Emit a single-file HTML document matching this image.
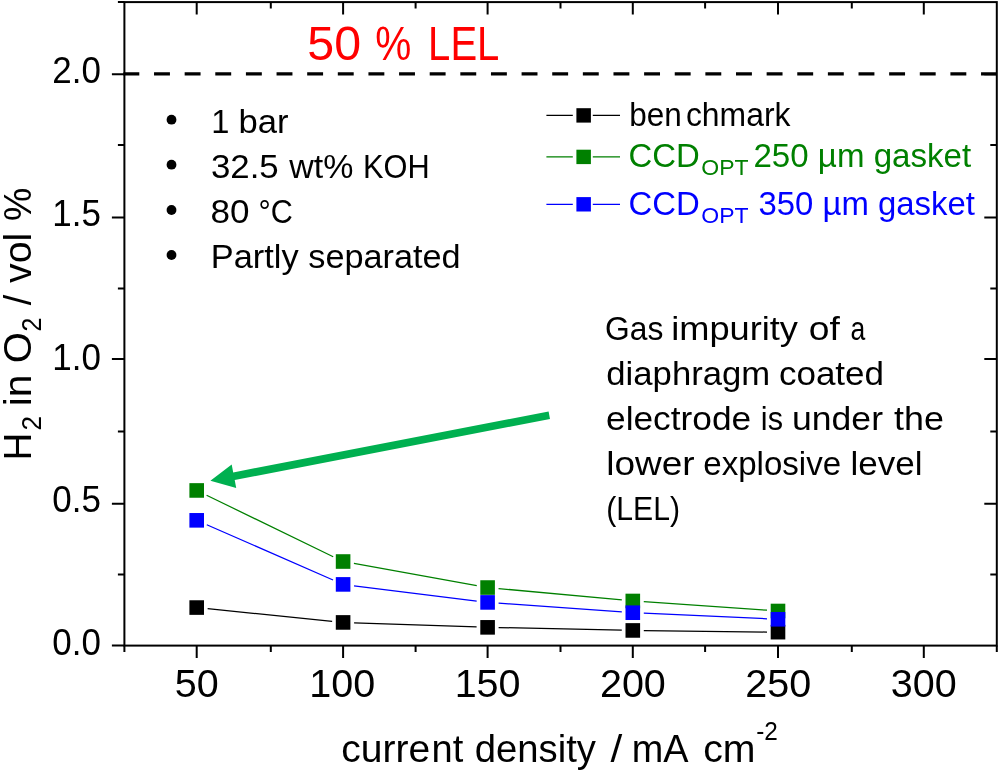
<!DOCTYPE html>
<html lang="en"><head><meta charset="utf-8"><title>H2 in O2 vs current density</title>
<style>html,body{margin:0;padding:0;background:#fff}body{width:1000px;height:773px;overflow:hidden}svg{display:block;filter:blur(0.45px)}text{font-family:"Liberation Sans",sans-serif;white-space:pre}</style>
</head><body>
<svg width="1000" height="773" viewBox="0 0 1000 773">
<rect width="1000" height="773" fill="#fff"/>
<line x1="123.4" y1="73.8" x2="996.8" y2="73.8" stroke="#000" stroke-width="3.2" stroke-dasharray="15.9 14.73"/>
<rect x="124.4" y="2.1" width="872.4" height="643.5" fill="none" stroke="#000" stroke-width="2"/>
<path d="M124.4 645.6v6.5 M196.7 645.6v12.5 M196.7 2.1v12.5 M270.8 645.6v6.5 M270.8 2.1v6.5 M343.1 645.6v12.5 M343.1 2.1v12.5 M415.6 645.6v6.5 M415.6 2.1v6.5 M487.6 645.6v12.5 M487.6 2.1v12.5 M560.5 645.6v6.5 M560.5 2.1v6.5 M632.8 645.6v12.5 M632.8 2.1v12.5 M705.1 645.6v6.5 M705.1 2.1v6.5 M778 645.6v12.5 M778 2.1v12.5 M851.8 645.6v6.5 M851.8 2.1v6.5 M923.8 645.6v12.5 M923.8 2.1v12.5 M996.8 645.6v6.5 M124.4 645.6h-12.5 M124.4 574.5h-6.5 M996.8 574.5h-6.5 M124.4 503.8h-12.5 M996.8 503.8h-12.5 M124.4 431.4h-6.5 M996.8 431.4h-6.5 M124.4 359.1h-12.5 M996.8 359.1h-12.5 M124.4 288.4h-6.5 M996.8 288.4h-6.5 M124.4 217.4h-12.5 M996.8 217.4h-12.5 M124.4 145.1h-6.5 M996.8 145.1h-6.5 M124.4 74.2h-12.5 M996.8 74.2h-12.5 M124.4 2.1h-6.5" stroke="#000" stroke-width="2" fill="none"/>
<text x="196.8" y="697" font-size="39.5" text-anchor="middle">50</text>
<text x="342.2" y="697" font-size="39.5" text-anchor="middle">100</text>
<text x="487.6" y="697" font-size="39.5" text-anchor="middle">150</text>
<text x="632.9" y="697" font-size="39.5" text-anchor="middle">200</text>
<text x="778.3" y="697" font-size="39.5" text-anchor="middle">250</text>
<text x="923.7" y="697" font-size="39.5" text-anchor="middle">300</text>
<text x="100.9" y="655.4" font-size="36" text-anchor="end" textLength="48.6" lengthAdjust="spacingAndGlyphs">0.0</text>
<text x="100.9" y="512.3" font-size="36" text-anchor="end" textLength="48.6" lengthAdjust="spacingAndGlyphs">0.5</text>
<text x="100.9" y="369.5" font-size="36" text-anchor="end" textLength="48.6" lengthAdjust="spacingAndGlyphs">1.0</text>
<text x="100.9" y="226.3" font-size="36" text-anchor="end" textLength="48.6" lengthAdjust="spacingAndGlyphs">1.5</text>
<text x="100.9" y="83.2" font-size="36" text-anchor="end" textLength="48.6" lengthAdjust="spacingAndGlyphs">2.0</text>
<text y="762.2"><tspan x="341.28" font-size="39.3" textLength="88.90" lengthAdjust="spacingAndGlyphs">curre</tspan><tspan x="431.62" font-size="39.3" textLength="31.75" lengthAdjust="spacingAndGlyphs">nt</tspan> <tspan x="474.80" font-size="39.3" textLength="121.20" lengthAdjust="spacingAndGlyphs">density</tspan> <tspan x="610.40" font-size="39.3" textLength="11.76" lengthAdjust="spacingAndGlyphs">/</tspan> <tspan x="631.73" font-size="39.3" textLength="56.78" lengthAdjust="spacingAndGlyphs">mA</tspan> <tspan x="703.17" font-size="39.3" textLength="52.36" lengthAdjust="spacingAndGlyphs">cm</tspan><tspan x="756.24" dy="-22.7" font-size="26" textLength="21.65" lengthAdjust="spacingAndGlyphs">-2</tspan></text>
<text transform="translate(30.9 461) rotate(-90)"><tspan x="0.39" font-size="39.5" textLength="27.86" lengthAdjust="spacingAndGlyphs">H</tspan><tspan x="30.38" dy="10.4" font-size="27.3" textLength="14.47" lengthAdjust="spacingAndGlyphs">2</tspan> <tspan x="54.65" dy="-10.4" font-size="39.5" textLength="31.74" lengthAdjust="spacingAndGlyphs">in</tspan> <tspan x="97.72" font-size="39.5" textLength="31.23" lengthAdjust="spacingAndGlyphs">O</tspan><tspan x="129.53" dy="10.4" font-size="27.3" textLength="13.88" lengthAdjust="spacingAndGlyphs">2</tspan> <tspan x="155.80" dy="-10.4" font-size="39.5" textLength="10.57" lengthAdjust="spacingAndGlyphs">/</tspan> <tspan x="178.10" font-size="39.5" textLength="50.19" lengthAdjust="spacingAndGlyphs">vol</tspan> <tspan x="240.03" font-size="39.5" textLength="33.39" lengthAdjust="spacingAndGlyphs">%</tspan></text>
<path d="M207.64 608.67L332.16 621.32 M354.09 622.81L476.61 626.98 M498.60 627.59L621.80 630.21 M643.80 630.57L767.00 632.03" stroke="#000" stroke-width="1.25" fill="none"/>
<rect x="189.40" y="600.26" width="14.6" height="14.6" fill="#000"/>
<rect x="335.80" y="615.13" width="14.6" height="14.6" fill="#000"/>
<rect x="480.30" y="620.05" width="14.6" height="14.6" fill="#000"/>
<rect x="625.50" y="623.14" width="14.6" height="14.6" fill="#000"/>
<rect x="770.70" y="624.86" width="14.6" height="14.6" fill="#000"/>
<path d="M206.60 495.25L333.20 556.71 M353.93 563.47L476.77 585.59 M498.55 588.56L621.85 599.97 M643.77 601.74L767.03 610.24" stroke="#008000" stroke-width="1.25" fill="none"/>
<rect x="189.40" y="483.15" width="14.6" height="14.6" fill="#008000"/>
<rect x="335.80" y="554.22" width="14.6" height="14.6" fill="#008000"/>
<rect x="480.30" y="580.24" width="14.6" height="14.6" fill="#008000"/>
<rect x="625.50" y="593.68" width="14.6" height="14.6" fill="#008000"/>
<rect x="770.70" y="603.69" width="14.6" height="14.6" fill="#008000"/>
<path d="M206.78 524.74L333.02 579.99 M354.02 585.76L476.68 601.05 M498.57 603.19L621.83 611.93 M643.79 613.21L767.01 618.79" stroke="#0000ff" stroke-width="1.25" fill="none"/>
<rect x="189.40" y="513.03" width="14.6" height="14.6" fill="#0000ff"/>
<rect x="335.80" y="577.10" width="14.6" height="14.6" fill="#0000ff"/>
<rect x="480.30" y="595.11" width="14.6" height="14.6" fill="#0000ff"/>
<rect x="625.50" y="605.41" width="14.6" height="14.6" fill="#0000ff"/>
<rect x="770.70" y="611.99" width="14.6" height="14.6" fill="#0000ff"/>
<polygon points="548.6,411.4 233.2,472.4 231.7,464.5 210.4,480.8 236.2,488.0 234.7,480.1 550.0,419.0" fill="#00b050"/>
<text y="60.2" fill="#f00"><tspan x="307.29" font-size="47.5" textLength="53.76" lengthAdjust="spacingAndGlyphs">50</tspan> <tspan x="375.33" font-size="47.5" textLength="36.08" lengthAdjust="spacingAndGlyphs">%</tspan> <tspan x="428.12" font-size="47.5" textLength="71.28" lengthAdjust="spacingAndGlyphs">LEL</tspan></text>
<circle cx="171.5" cy="119.7" r="4.9" fill="#000"/>
<text y="133"><tspan x="211.16" font-size="33" textLength="18.17" lengthAdjust="spacingAndGlyphs">1</tspan> <tspan x="238.64" font-size="33" textLength="50.03" lengthAdjust="spacingAndGlyphs">bar</tspan></text>
<circle cx="171.5" cy="164.7" r="4.9" fill="#000"/>
<text y="178"><tspan x="210.91" font-size="33" textLength="67.80" lengthAdjust="spacingAndGlyphs">32.5</tspan> <tspan x="289.33" font-size="33" textLength="64.08" lengthAdjust="spacingAndGlyphs">wt%</tspan> <tspan x="362.99" font-size="33" textLength="66.72" lengthAdjust="spacingAndGlyphs">KOH</tspan></text>
<circle cx="171.5" cy="210.0" r="4.9" fill="#000"/>
<text y="223.3"><tspan x="210.60" font-size="33" textLength="39.02" lengthAdjust="spacingAndGlyphs">80</tspan> <tspan x="258.57" font-size="33" textLength="34.29" lengthAdjust="spacingAndGlyphs">°C</tspan></text>
<circle cx="171.5" cy="255.0" r="4.9" fill="#000"/>
<text y="268.3"><tspan x="210.82" font-size="33" textLength="87.78" lengthAdjust="spacingAndGlyphs">Partly</tspan> <tspan x="308.26" font-size="33" textLength="152.36" lengthAdjust="spacingAndGlyphs">separated</tspan></text>
<text y="339.6"><tspan x="605.11" font-size="33" textLength="58.28" lengthAdjust="spacingAndGlyphs">Gas</tspan> <tspan x="671.24" font-size="33" textLength="126.76" lengthAdjust="spacingAndGlyphs">impurity</tspan> <tspan x="808.84" font-size="33" textLength="31.04" lengthAdjust="spacingAndGlyphs">of</tspan> <tspan x="850.57" font-size="33" textLength="14.76" lengthAdjust="spacingAndGlyphs">a</tspan></text>
<text y="384.6"><tspan x="606.32" font-size="33" textLength="163.88" lengthAdjust="spacingAndGlyphs">diaphragm</tspan> <tspan x="778.91" font-size="33" textLength="105.16" lengthAdjust="spacingAndGlyphs">coated</tspan></text>
<text y="429.5"><tspan x="606.00" font-size="33" textLength="145.23" lengthAdjust="spacingAndGlyphs">electrode</tspan> <tspan x="760.84" font-size="33" textLength="22.12" lengthAdjust="spacingAndGlyphs">is</tspan> <tspan x="792.08" font-size="33" textLength="90.89" lengthAdjust="spacingAndGlyphs">under</tspan> <tspan x="894.00" font-size="33" textLength="49.85" lengthAdjust="spacingAndGlyphs">the</tspan></text>
<text y="475"><tspan x="606.19" font-size="33" textLength="88.50" lengthAdjust="spacingAndGlyphs">lower</tspan> <tspan x="703.27" font-size="33" textLength="137.87" lengthAdjust="spacingAndGlyphs">explosive</tspan> <tspan x="850.51" font-size="33" textLength="72.00" lengthAdjust="spacingAndGlyphs">level</tspan></text>
<text y="520"><tspan x="606.18" font-size="33" textLength="73.88" lengthAdjust="spacingAndGlyphs">(LEL)</tspan></text>
<path d="M546.4 115.4H572.8M592.8 115.4H620" stroke="#000" stroke-width="1.25"/>
<rect x="576.4" y="108.2" width="14.5" height="14.4" fill="#000"/>
<path d="M546.4 156.9H572.8M592.8 156.9H620" stroke="#008000" stroke-width="1.25"/>
<rect x="576.4" y="149.7" width="14.5" height="14.4" fill="#008000"/>
<path d="M546.4 204.3H572.8M592.8 204.3H620" stroke="#0000ff" stroke-width="1.25"/>
<rect x="576.4" y="197.1" width="14.5" height="14.4" fill="#0000ff"/>
<text y="125.8"><tspan x="629.23" font-size="33.2" textLength="52.54" lengthAdjust="spacingAndGlyphs">ben</tspan><tspan x="685.90" font-size="33.2" textLength="104.60" lengthAdjust="spacingAndGlyphs">chmark</tspan></text>
<text y="167" fill="#008000"><tspan x="628.46" font-size="33.2" textLength="71.28" lengthAdjust="spacingAndGlyphs">CCD</tspan><tspan x="701.32" dy="7.8" font-size="22.3" textLength="47.27" lengthAdjust="spacingAndGlyphs">OPT</tspan> <tspan x="753.45" dy="-7.8" font-size="33.2" textLength="217.69" lengthAdjust="spacingAndGlyphs">250 µm gasket</tspan></text>
<text y="215" fill="#0000ff"><tspan x="628.46" font-size="33.2" textLength="71.28" lengthAdjust="spacingAndGlyphs">CCD</tspan><tspan x="701.32" dy="7.8" font-size="22.3" textLength="47.27" lengthAdjust="spacingAndGlyphs">OPT</tspan> <tspan x="758.47" dy="-7.8" font-size="33.2" textLength="216.42" lengthAdjust="spacingAndGlyphs">350 µm gasket</tspan></text>
</svg>
</body></html>
